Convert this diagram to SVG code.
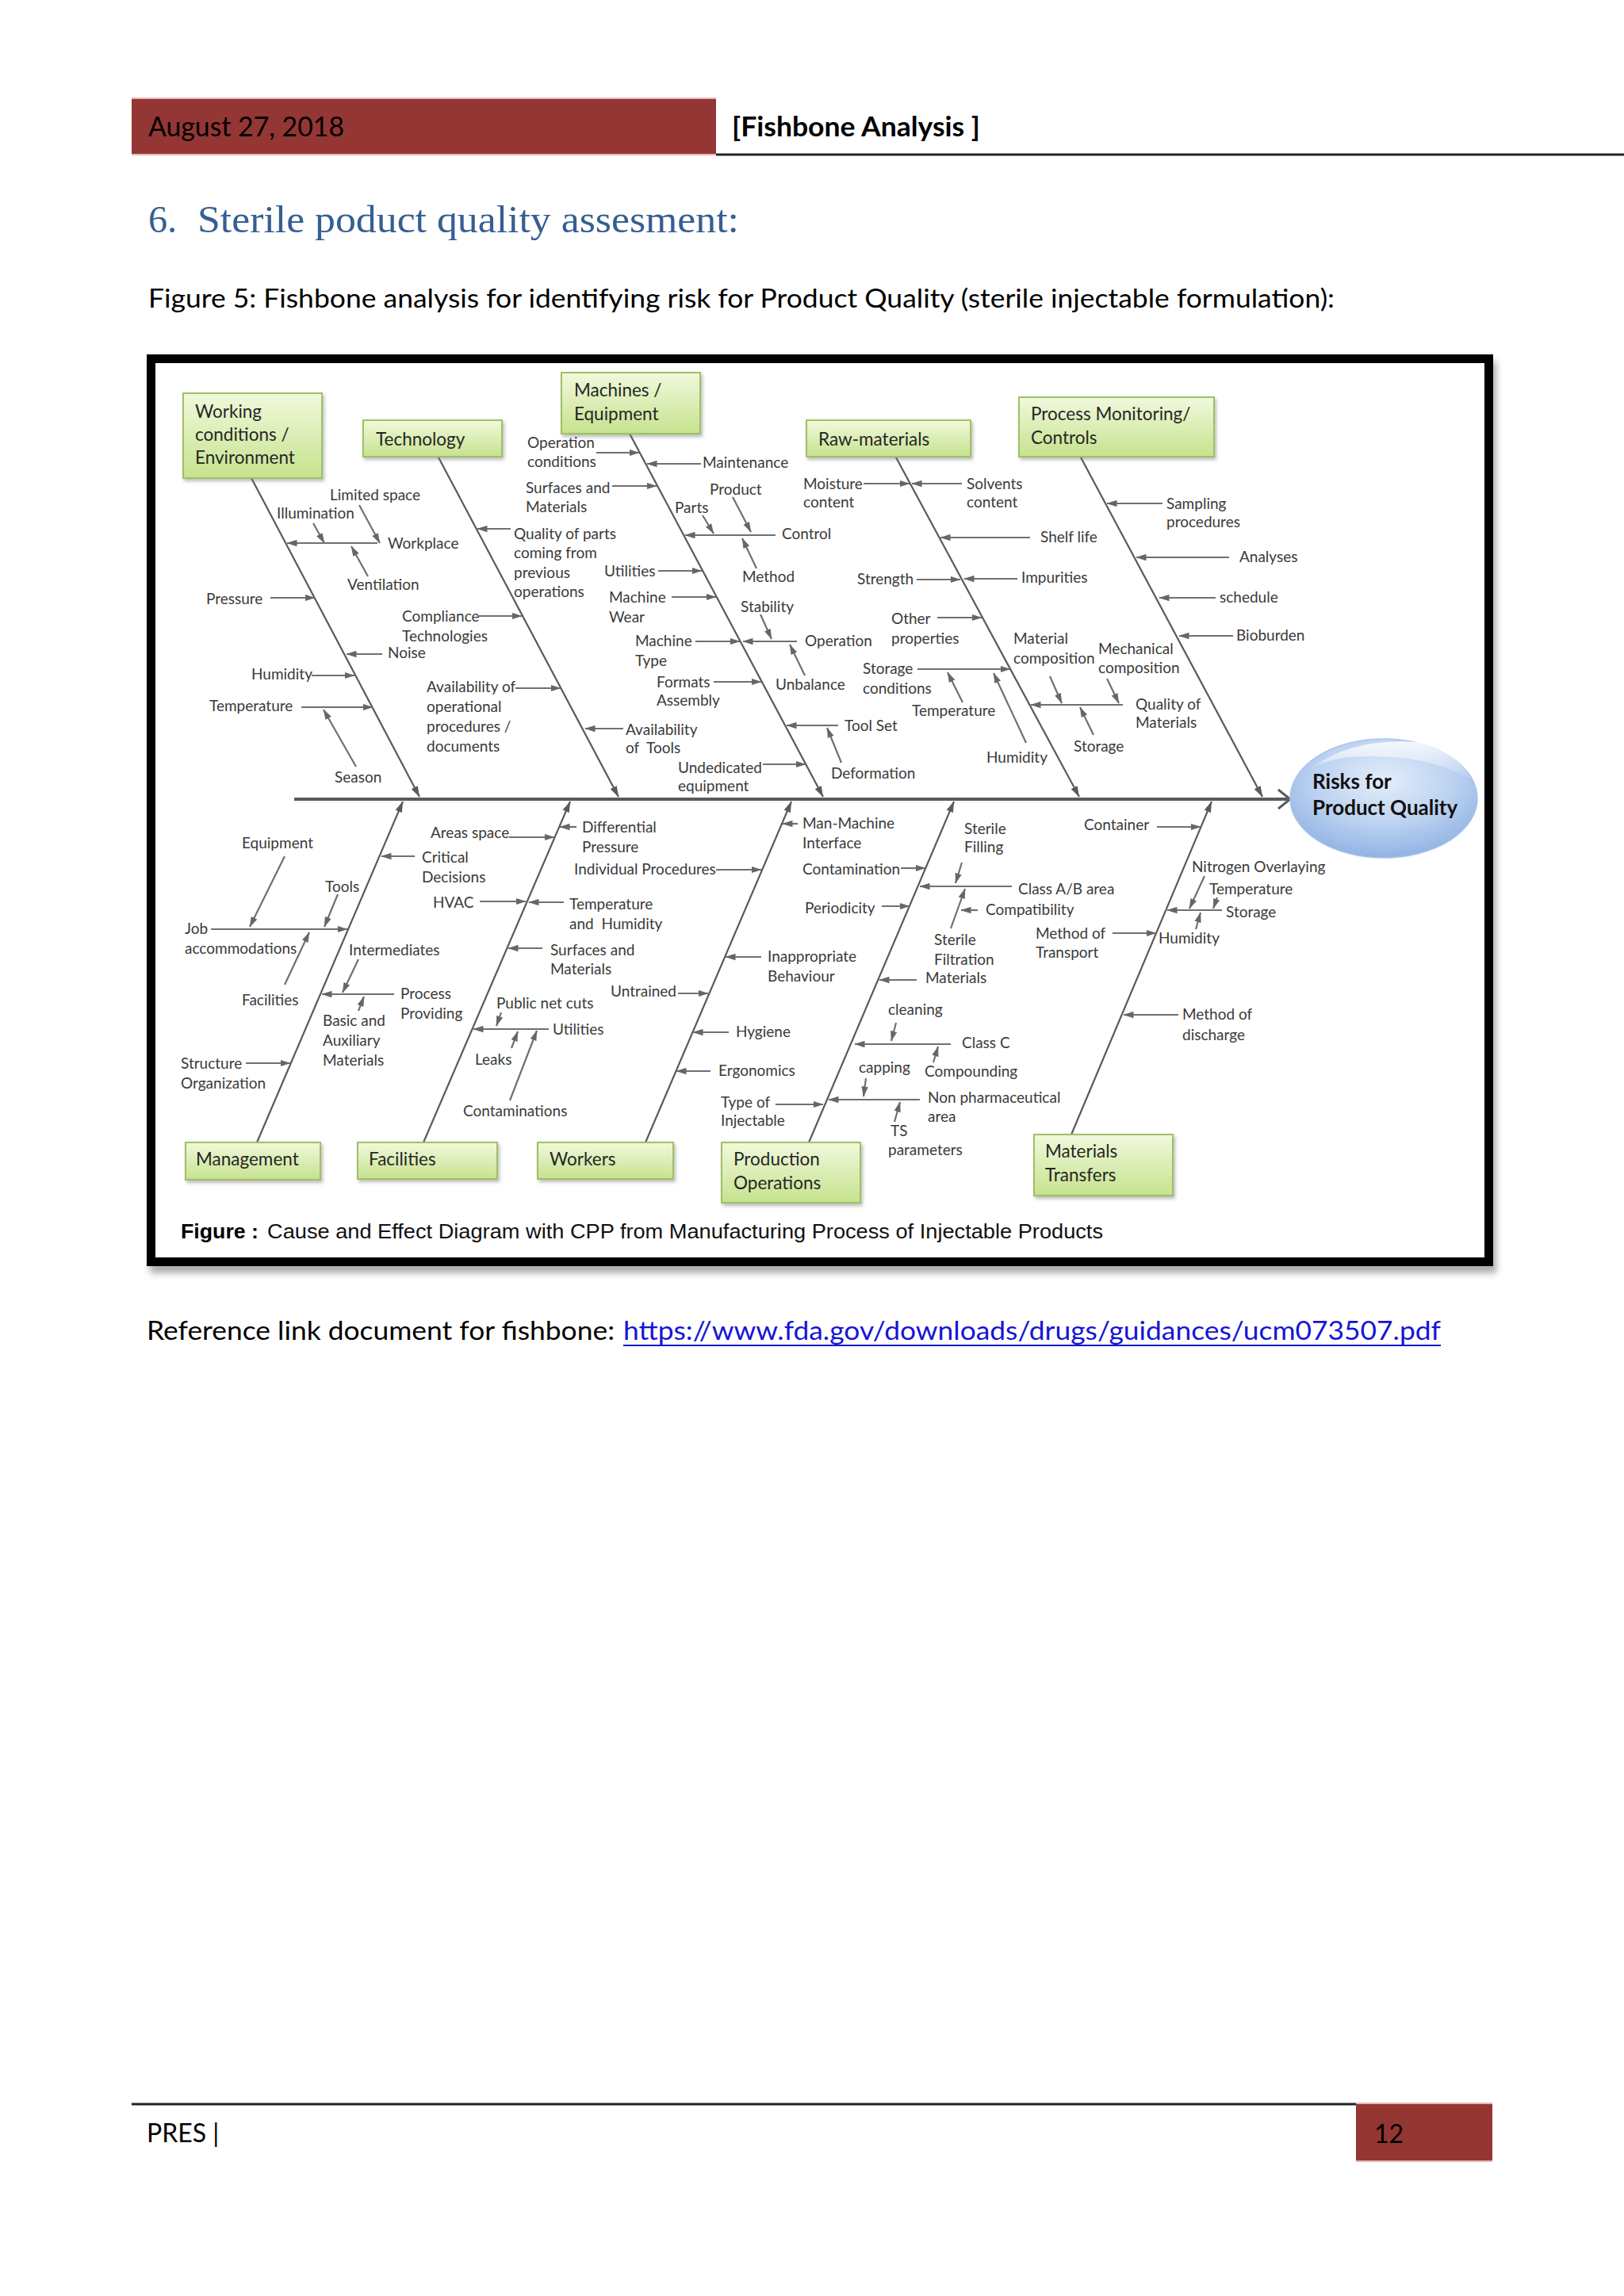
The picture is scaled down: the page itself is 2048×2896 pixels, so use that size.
<svg xmlns="http://www.w3.org/2000/svg" width="2048" height="2896" viewBox="0 0 2048 2896">
<defs>
<style>
.lb{font-family:Lato,"Liberation Sans",sans-serif;font-size:19px;fill:#3a3a3a}
.bx{font-family:Lato,"Liberation Sans",sans-serif;font-size:22.5px;fill:#262626}
.box{fill:url(#gbox);stroke:#9fc064;stroke-width:2;filter:url(#sh)}
.a{stroke:#707070;stroke-width:2.2;fill:none;marker-end:url(#ah)}
.bone{stroke:#5a5a5a;stroke-width:2.2;fill:none;marker-end:url(#ahb)}
.pg{font-family:Lato,"Liberation Sans",sans-serif;fill:#000}
</style>
<linearGradient id="gbox" x1="0" y1="0" x2="0" y2="1">
<stop offset="0" stop-color="#f1f9dc"/>
<stop offset="1" stop-color="#c6e28e"/>
</linearGradient>
<radialGradient id="gell" cx="0.5" cy="0.35" r="0.72">
<stop offset="0" stop-color="#e4edfa"/>
<stop offset="0.5" stop-color="#bdd3f1"/>
<stop offset="1" stop-color="#86abe0"/>
</radialGradient>
<linearGradient id="ghl" x1="0" y1="0" x2="0" y2="1">
<stop offset="0" stop-color="#ffffff" stop-opacity="0.85"/>
<stop offset="1" stop-color="#ffffff" stop-opacity="0"/>
</linearGradient>
<filter id="sh" x="-10%" y="-10%" width="130%" height="140%">
<feDropShadow dx="2" dy="3" stdDeviation="2" flood-color="#777" flood-opacity="0.5"/>
</filter>
<filter id="fsh" x="-5%" y="-5%" width="110%" height="112%">
<feDropShadow dx="4" dy="9" stdDeviation="4" flood-color="#777" flood-opacity="0.6"/>
</filter>
<marker id="ah" markerUnits="userSpaceOnUse" viewBox="0 0 13 9" markerWidth="13" markerHeight="9" refX="12.5" refY="4.5" orient="auto">
<path d="M0,0.3 L13,4.5 L0,8.7 z" fill="#666"/>
</marker>
<marker id="ahb" markerUnits="userSpaceOnUse" viewBox="0 0 14 10" markerWidth="14" markerHeight="10" refX="13.5" refY="5" orient="auto">
<path d="M0,0.5 L14,5 L0,9.5 z" fill="#5a5a5a"/>
</marker>
</defs>
<rect x="0" y="0" width="2048" height="2896" fill="#ffffff"/>

<!-- page header -->
<g id="page-header">
<rect x="166" y="124" width="737" height="71" fill="#943634"/>
<line x1="166" y1="124" x2="903" y2="124" stroke="#e5b8b7" stroke-width="2"/>
<line x1="166" y1="195" x2="903" y2="195" stroke="#e5b8b7" stroke-width="2"/>
<line x1="903" y1="195" x2="2048" y2="195" stroke="#222" stroke-width="3"/>
<text class="pg" x="187" y="172" font-size="35" textLength="247" lengthAdjust="spacingAndGlyphs">August 27, 2018</text>
<text class="pg" x="923" y="172" font-size="35" font-weight="bold" textLength="313" lengthAdjust="spacingAndGlyphs">[Fishbone Analysis ]</text>
</g>
<g id="section-title" font-family="'Liberation Serif',serif" font-size="48" fill="#365f91">
<text x="187" y="293">6.</text>
<text x="249" y="293" textLength="683" lengthAdjust="spacingAndGlyphs">Sterile poduct quality assesment:</text>
</g>
<text id="figure-caption" class="pg" x="187" y="388" font-size="32" textLength="1496" lengthAdjust="spacingAndGlyphs">Figure 5: Fishbone analysis for identifying risk for Product Quality (sterile injectable formulation):</text>

<!-- figure frame -->
<rect id="frame" x="190.5" y="452.5" width="1687" height="1139" fill="#ffffff" stroke="#000" stroke-width="11" filter="url(#fsh)"/>

<!-- connectors -->
<g id="connectors">
<line x1="371" y1="1008" x2="1624" y2="1008" stroke="#5a5a5a" stroke-width="4"/>
<polyline points="1612,996 1627,1008 1612,1020" fill="none" stroke="#5a5a5a" stroke-width="3"/>
<!-- main bones -->
<line class="bone" x1="317" y1="603" x2="529" y2="1005"/>
<line class="bone" x1="553" y1="577" x2="780" y2="1005"/>
<line class="bone" x1="794" y1="547" x2="1038" y2="1005"/>
<line class="bone" x1="1130" y1="577" x2="1361" y2="1005"/>
<line class="bone" x1="1363" y1="577" x2="1592" y2="1005"/>
<line class="bone" x1="324" y1="1441" x2="508" y2="1011"/>
<line class="bone" x1="534" y1="1441" x2="719" y2="1011"/>
<line class="bone" x1="814" y1="1441" x2="998" y2="1011"/>
<line class="bone" x1="1020" y1="1441" x2="1203" y2="1011"/>
<line class="bone" x1="1351" y1="1431" x2="1528" y2="1011"/>
<!-- working conditions -->
<line class="a" x1="453" y1="637" x2="479" y2="685"/>
<line class="a" x1="395" y1="660" x2="409" y2="685"/>
<line class="a" x1="476" y1="685" x2="362" y2="685"/>
<line class="a" x1="464" y1="727" x2="443" y2="689"/>
<line class="a" x1="341" y1="754" x2="397" y2="754"/>
<line class="a" x1="482" y1="825" x2="437" y2="825"/>
<line class="a" x1="393" y1="852" x2="447" y2="852"/>
<line class="a" x1="380" y1="892" x2="470" y2="892"/>
<line class="a" x1="449" y1="967" x2="408" y2="895"/>
<!-- technology -->
<line class="a" x1="644" y1="667" x2="602" y2="667"/>
<line class="a" x1="604" y1="777" x2="658" y2="777"/>
<line class="a" x1="650" y1="868" x2="707" y2="868"/>
<line class="a" x1="786" y1="919" x2="738" y2="919"/>
<!-- machines -->
<line class="a" x1="752" y1="571" x2="806" y2="571"/>
<line class="a" x1="884" y1="585" x2="816" y2="585"/>
<line class="a" x1="772" y1="613" x2="828" y2="613"/>
<line class="a" x1="924" y1="627" x2="947" y2="671"/>
<line class="a" x1="886" y1="650" x2="900" y2="673"/>
<line class="a" x1="978" y1="675" x2="864" y2="675"/>
<line class="a" x1="954" y1="717" x2="936" y2="679"/>
<line class="a" x1="830" y1="720" x2="885" y2="720"/>
<line class="a" x1="847" y1="753" x2="903" y2="753"/>
<line class="a" x1="959" y1="775" x2="973" y2="806"/>
<line class="a" x1="877" y1="809" x2="933" y2="809"/>
<line class="a" x1="1005" y1="809" x2="937" y2="809"/>
<line class="a" x1="1015" y1="852" x2="996" y2="813"/>
<line class="a" x1="900" y1="860" x2="960" y2="860"/>
<line class="a" x1="1057" y1="915" x2="992" y2="915"/>
<line class="a" x1="1061" y1="962" x2="1043" y2="918"/>
<line class="a" x1="962" y1="964" x2="1016" y2="964"/>
<!-- raw materials -->
<line class="a" x1="1089" y1="610" x2="1147" y2="610"/>
<line class="a" x1="1213" y1="610" x2="1150" y2="610"/>
<line class="a" x1="1299" y1="678" x2="1186" y2="678"/>
<line class="a" x1="1156" y1="731" x2="1211" y2="731"/>
<line class="a" x1="1283" y1="730" x2="1216" y2="730"/>
<line class="a" x1="1182" y1="779" x2="1238" y2="779"/>
<line class="a" x1="1157" y1="844" x2="1274" y2="844"/>
<line class="a" x1="1214" y1="886" x2="1195" y2="848"/>
<line class="a" x1="1294" y1="937" x2="1253" y2="849"/>
<line class="a" x1="1324" y1="853" x2="1339" y2="887"/>
<line class="a" x1="1396" y1="856" x2="1411" y2="887"/>
<line class="a" x1="1416" y1="889" x2="1300" y2="889"/>
<line class="a" x1="1379" y1="927" x2="1362" y2="892"/>
<!-- process monitoring -->
<line class="a" x1="1466" y1="635" x2="1396" y2="635"/>
<line class="a" x1="1550" y1="703" x2="1433" y2="703"/>
<line class="a" x1="1533" y1="754" x2="1462" y2="754"/>
<line class="a" x1="1555" y1="802" x2="1487" y2="802"/>
<!-- management -->
<line class="a" x1="359" y1="1080" x2="315" y2="1169"/>
<line class="a" x1="426" y1="1128" x2="409" y2="1169"/>
<line class="a" x1="266" y1="1172" x2="438" y2="1172"/>
<line class="a" x1="359" y1="1242" x2="390" y2="1176"/>
<line class="a" x1="523" y1="1080" x2="481" y2="1080"/>
<line class="a" x1="452" y1="1210" x2="432" y2="1252"/>
<line class="a" x1="497" y1="1254" x2="406" y2="1254"/>
<line class="a" x1="452" y1="1275" x2="459" y2="1257"/>
<line class="a" x1="310" y1="1341" x2="366" y2="1341"/>
<!-- facilities -->
<line class="a" x1="642" y1="1056" x2="699" y2="1056"/>
<line class="a" x1="605" y1="1137" x2="663" y2="1137"/>
<line class="a" x1="684" y1="1196" x2="641" y2="1196"/>
<line class="a" x1="632" y1="1277" x2="626" y2="1294"/>
<line class="a" x1="692" y1="1298" x2="597" y2="1298"/>
<line class="a" x1="645" y1="1322" x2="653" y2="1301"/>
<line class="a" x1="643" y1="1388" x2="677" y2="1300"/>
<line class="a" x1="727" y1="1043" x2="706" y2="1043"/>
<line class="a" x1="711" y1="1138" x2="667" y2="1138"/>
<!-- workers -->
<line class="a" x1="903" y1="1097" x2="960" y2="1097"/>
<line class="a" x1="855" y1="1253" x2="893" y2="1253"/>
<line class="a" x1="1006" y1="1039" x2="987" y2="1039"/>
<line class="a" x1="960" y1="1207" x2="915" y2="1207"/>
<line class="a" x1="919" y1="1302" x2="874" y2="1302"/>
<line class="a" x1="896" y1="1351" x2="853" y2="1351"/>
<!-- production operations -->
<line class="a" x1="1136" y1="1095" x2="1167" y2="1095"/>
<line class="a" x1="1112" y1="1143" x2="1147" y2="1143"/>
<line class="a" x1="1213" y1="1088" x2="1205" y2="1114"/>
<line class="a" x1="1276" y1="1118" x2="1160" y2="1118"/>
<line class="a" x1="1233" y1="1148" x2="1212" y2="1148"/>
<line class="a" x1="1199" y1="1171" x2="1217" y2="1121"/>
<line class="a" x1="1156" y1="1236" x2="1109" y2="1236"/>
<line class="a" x1="1130" y1="1290" x2="1124" y2="1313"/>
<line class="a" x1="1199" y1="1317" x2="1078" y2="1317"/>
<line class="a" x1="1177" y1="1340" x2="1183" y2="1320"/>
<line class="a" x1="1092" y1="1360" x2="1089" y2="1383"/>
<line class="a" x1="1160" y1="1387" x2="1045" y2="1387"/>
<line class="a" x1="978" y1="1393" x2="1038" y2="1393"/>
<line class="a" x1="1128" y1="1415" x2="1135" y2="1390"/>
<!-- materials transfers -->
<line class="a" x1="1459" y1="1043" x2="1514" y2="1043"/>
<line class="a" x1="1519" y1="1105" x2="1500" y2="1146"/>
<line class="a" x1="1535" y1="1132" x2="1530" y2="1146"/>
<line class="a" x1="1541" y1="1148" x2="1472" y2="1148"/>
<line class="a" x1="1508" y1="1172" x2="1514" y2="1151"/>
<line class="a" x1="1403" y1="1177" x2="1458" y2="1177"/>
<line class="a" x1="1486" y1="1280" x2="1417" y2="1280"/>
</g>

<!-- category nodes -->
<g id="node-working-conditions"><rect class="box" x="231" y="496" width="175" height="107"/><text class="bx"><tspan x="246" y="527">Working</tspan><tspan x="246" y="556">conditions /</tspan><tspan x="246" y="585">Environment</tspan></text></g>
<g id="node-technology"><rect class="box" x="458" y="530" width="175" height="46"/><text class="bx" x="474" y="562">Technology</text></g>
<g id="node-machines"><rect class="box" x="708" y="470" width="175" height="77"/><text class="bx"><tspan x="724" y="500">Machines /</tspan><tspan x="724" y="530">Equipment</tspan></text></g>
<g id="node-raw-materials"><rect class="box" x="1017" y="530" width="207" height="46"/><text class="bx" x="1032" y="562">Raw-materials</text></g>
<g id="node-process-monitoring"><rect class="box" x="1285" y="501" width="246" height="75"/><text class="bx"><tspan x="1300" y="530">Process Monitoring/</tspan><tspan x="1300" y="560">Controls</tspan></text></g>
<g id="node-management"><rect class="box" x="234" y="1441" width="170" height="47"/><text class="bx" x="247" y="1470">Management</text></g>
<g id="node-facilities"><rect class="box" x="451" y="1441" width="176" height="46"/><text class="bx" x="465" y="1470">Facilities</text></g>
<g id="node-workers"><rect class="box" x="678" y="1441" width="171" height="46"/><text class="bx" x="693" y="1470">Workers</text></g>
<g id="node-production-operations"><rect class="box" x="910" y="1441" width="175" height="76"/><text class="bx"><tspan x="925" y="1470">Production</tspan><tspan x="925" y="1500">Operations</tspan></text></g>
<g id="node-materials-transfers"><rect class="box" x="1304" y="1431" width="175" height="77"/><text class="bx"><tspan x="1318" y="1460">Materials</tspan><tspan x="1318" y="1490">Transfers</tspan></text></g>

<!-- effect node -->
<g id="node-effect">
<ellipse cx="1745" cy="1007" rx="118" ry="75" fill="url(#gell)" stroke="#a9c5ec" stroke-width="1.5"/>
<path d="M1650,972 Q1700,930 1790,936 Q1845,945 1856,985 Q1800,948 1700,955 Q1665,960 1650,972 z" fill="url(#ghl)"/>
<text font-family="Lato,'Liberation Sans',sans-serif" font-weight="bold" font-size="26" fill="#111"><tspan x="1655" y="995">Risks for</tspan><tspan x="1655" y="1028">Product Quality</tspan></text>
</g>

<!-- cause labels -->
<g id="causes" class="lb">
<text class="lb" x="416" y="631">Limited space</text>
<text class="lb" x="349" y="654">Illumination</text>
<text class="lb" x="489" y="692">Workplace</text>
<text class="lb" x="438" y="744">Ventilation</text>
<text class="lb" x="260" y="762">Pressure</text>
<text class="lb"><tspan x="507" y="784">Compliance</tspan><tspan x="507" y="809">Technologies</tspan></text>
<text class="lb" x="489" y="830">Noise</text>
<text class="lb" x="317" y="857">Humidity</text>
<text class="lb" x="264" y="897">Temperature</text>
<text class="lb" x="422" y="987">Season</text>
<text class="lb"><tspan x="648" y="680">Quality of parts</tspan><tspan x="648" y="704">coming from</tspan><tspan x="648" y="729">previous</tspan><tspan x="648" y="753">operations</tspan></text>
<text class="lb"><tspan x="538" y="873">Availability of</tspan><tspan x="538" y="898">operational</tspan><tspan x="538" y="923">procedures /</tspan><tspan x="538" y="948">documents</tspan></text>
<text class="lb" xml:space="preserve"><tspan x="789" y="927">Availability</tspan><tspan x="789" y="950">of  Tools</tspan></text>
<text class="lb"><tspan x="665" y="565">Operation</tspan><tspan x="665" y="589">conditions</tspan></text>
<text class="lb" x="886" y="590">Maintenance</text>
<text class="lb"><tspan x="663" y="622">Surfaces and</tspan><tspan x="663" y="646">Materials</tspan></text>
<text class="lb" x="895" y="624">Product</text>
<text class="lb" x="851" y="647">Parts</text>
<text class="lb" x="986" y="680">Control</text>
<text class="lb" x="936" y="734">Method</text>
<text class="lb" x="762" y="727">Utilities</text>
<text class="lb"><tspan x="768" y="760">Machine</tspan><tspan x="768" y="785">Wear</tspan></text>
<text class="lb" x="934" y="772">Stability</text>
<text class="lb"><tspan x="801" y="815">Machine</tspan><tspan x="801" y="840">Type</tspan></text>
<text class="lb" x="1015" y="815">Operation</text>
<text class="lb" x="978" y="870">Unbalance</text>
<text class="lb"><tspan x="828" y="867">Formats</tspan><tspan x="828" y="890">Assembly</tspan></text>
<text class="lb" x="1065" y="922">Tool Set</text>
<text class="lb" x="1048" y="982">Deformation</text>
<text class="lb"><tspan x="855" y="975">Undedicated</tspan><tspan x="855" y="998">equipment</tspan></text>
<text class="lb"><tspan x="1013" y="617">Moisture</tspan><tspan x="1013" y="640">content</tspan></text>
<text class="lb"><tspan x="1219" y="617">Solvents</tspan><tspan x="1219" y="640">content</tspan></text>
<text class="lb" x="1312" y="684">Shelf life</text>
<text class="lb" x="1081" y="737">Strength</text>
<text class="lb" x="1288" y="735">Impurities</text>
<text class="lb"><tspan x="1124" y="787">Other</tspan><tspan x="1124" y="812">properties</tspan></text>
<text class="lb"><tspan x="1088" y="850">Storage</tspan><tspan x="1088" y="875">conditions</tspan></text>
<text class="lb" x="1150" y="903">Temperature</text>
<text class="lb" x="1244" y="962">Humidity</text>
<text class="lb"><tspan x="1278" y="812">Material</tspan><tspan x="1278" y="837">composition</tspan></text>
<text class="lb"><tspan x="1385" y="825">Mechanical</tspan><tspan x="1385" y="849">composition</tspan></text>
<text class="lb"><tspan x="1432" y="895">Quality of</tspan><tspan x="1432" y="918">Materials</tspan></text>
<text class="lb" x="1354" y="948">Storage</text>
<text class="lb"><tspan x="1471" y="642">Sampling</tspan><tspan x="1471" y="665">procedures</tspan></text>
<text class="lb" x="1563" y="709">Analyses</text>
<text class="lb" x="1538" y="760">schedule</text>
<text class="lb" x="1559" y="808">Bioburden</text>

<text class="lb" x="305" y="1070">Equipment</text>
<text class="lb" x="410" y="1125">Tools</text>
<text class="lb"><tspan x="233" y="1178">Job</tspan><tspan x="233" y="1203">accommodations</tspan></text>
<text class="lb" x="305" y="1268">Facilities</text>
<text class="lb"><tspan x="532" y="1088">Critical</tspan><tspan x="532" y="1113">Decisions</tspan></text>
<text class="lb" x="440" y="1205">Intermediates</text>
<text class="lb"><tspan x="505" y="1260">Process</tspan><tspan x="505" y="1285">Providing</tspan></text>
<text class="lb"><tspan x="407" y="1294">Basic and</tspan><tspan x="407" y="1319">Auxiliary</tspan><tspan x="407" y="1344">Materials</tspan></text>
<text class="lb"><tspan x="228" y="1348">Structure</tspan><tspan x="228" y="1373">Organization</tspan></text>
<text class="lb" x="543" y="1057">Areas space</text>
<text class="lb" x="546" y="1145">HVAC</text>
<text class="lb"><tspan x="694" y="1205">Surfaces and</tspan><tspan x="694" y="1229">Materials</tspan></text>
<text class="lb" x="626" y="1272">Public net cuts</text>
<text class="lb" x="697" y="1305">Utilities</text>
<text class="lb" x="599" y="1343">Leaks</text>
<text class="lb" x="584" y="1408">Contaminations</text>
<text class="lb"><tspan x="734" y="1050">Differential</tspan><tspan x="734" y="1075">Pressure</tspan></text>
<text class="lb" xml:space="preserve"><tspan x="718" y="1147">Temperature</tspan><tspan x="718" y="1172">and  Humidity</tspan></text>
<text class="lb" x="724" y="1103">Individual Procedures</text>
<text class="lb" x="770" y="1257">Untrained</text>
<text class="lb"><tspan x="1012" y="1045">Man-Machine</tspan><tspan x="1012" y="1070">Interface</tspan></text>
<text class="lb"><tspan x="968" y="1213">Inappropriate</tspan><tspan x="968" y="1238">Behaviour</tspan></text>
<text class="lb" x="928" y="1308">Hygiene</text>
<text class="lb" x="906" y="1357">Ergonomics</text>
<text class="lb" x="1012" y="1103">Contamination</text>
<text class="lb" x="1015" y="1152">Periodicity</text>
<text class="lb"><tspan x="1216" y="1052">Sterile</tspan><tspan x="1216" y="1075">Filling</tspan></text>
<text class="lb" x="1284" y="1128">Class A/B area</text>
<text class="lb" x="1243" y="1154">Compatibility</text>
<text class="lb"><tspan x="1178" y="1192">Sterile</tspan><tspan x="1178" y="1217">Filtration</tspan><tspan x="1167" y="1240">Materials</tspan></text>
<text class="lb" x="1120" y="1280">cleaning</text>
<text class="lb" x="1213" y="1322">Class C</text>
<text class="lb" x="1166" y="1358">Compounding</text>
<text class="lb" x="1083" y="1353">capping</text>
<text class="lb"><tspan x="1170" y="1391">Non pharmaceutical</tspan><tspan x="1170" y="1415">area</tspan></text>
<text class="lb"><tspan x="909" y="1397">Type of</tspan><tspan x="909" y="1420">Injectable</tspan></text>
<text class="lb"><tspan x="1123" y="1433">TS</tspan><tspan x="1120" y="1457">parameters</tspan></text>
<text class="lb" x="1367" y="1047">Container</text>
<text class="lb" x="1503" y="1100">Nitrogen Overlaying</text>
<text class="lb" x="1525" y="1128">Temperature</text>
<text class="lb" x="1546" y="1157">Storage</text>
<text class="lb" x="1461" y="1190">Humidity</text>
<text class="lb"><tspan x="1306" y="1184">Method of</tspan><tspan x="1306" y="1208">Transport</tspan></text>
<text class="lb"><tspan x="1491" y="1286">Method of</tspan><tspan x="1491" y="1312">discharge</tspan></text>
</g>

<g id="diagram-caption">
<text x="228" y="1562" font-family="'Liberation Sans',Arial,sans-serif" font-size="25" font-weight="bold" fill="#000" textLength="98" lengthAdjust="spacingAndGlyphs">Figure :</text>
<text x="337" y="1562" font-family="'Liberation Sans',Arial,sans-serif" font-size="25" fill="#111" textLength="1054" lengthAdjust="spacingAndGlyphs">Cause and Effect Diagram with CPP from Manufacturing Process of Injectable Products</text>
</g>

<g id="reference-link">
<text class="pg" x="185" y="1690" font-size="32" textLength="590" lengthAdjust="spacingAndGlyphs">Reference link document for fishbone:</text>
<text class="pg" x="786" y="1690" font-size="32" style="fill:#1515d6" textLength="1031" lengthAdjust="spacingAndGlyphs">https://www.fda.gov/downloads/drugs/guidances/ucm073507.pdf</text>
<line x1="786" y1="1697" x2="1817" y2="1697" stroke="#1515d6" stroke-width="2"/>
</g>

<g id="page-footer">
<line x1="166" y1="2654" x2="1710" y2="2654" stroke="#222" stroke-width="3"/>
<rect x="1710" y="2653" width="172" height="73" fill="#943634"/>
<line x1="1710" y1="2653" x2="1882" y2="2653" stroke="#e5b8b7" stroke-width="2"/>
<line x1="1710" y1="2726" x2="1882" y2="2726" stroke="#e5b8b7" stroke-width="2"/>
<text class="pg" x="185" y="2702" font-size="32">PRES |</text>
<text class="pg" x="1733" y="2703" font-size="32">12</text>
</g>
</svg>
